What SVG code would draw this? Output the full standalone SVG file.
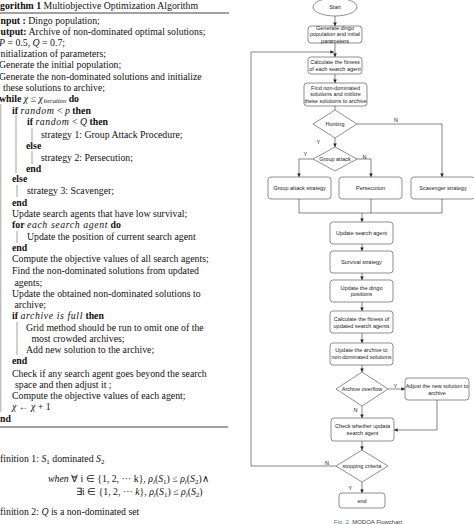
<svg xmlns="http://www.w3.org/2000/svg" width="474" height="524" viewBox="0 0 474 524">
<style>
.alg{font-family:"Liberation Serif","Times New Roman",serif;font-size:9.8px;fill:#111}
.b{font-weight:bold}
.i{font-style:italic}
.rule{stroke:#111;stroke-width:0.8}
.blk{stroke:#999;stroke-width:0.9}
.box{fill:#fff;stroke:#444;stroke-width:0.6}
.ft{font-family:"Liberation Sans",Arial,sans-serif;font-size:5.5px;fill:#222;text-anchor:middle}
.lbl{font-family:"Liberation Sans",Arial,sans-serif;font-size:5.5px;fill:#222}
.con{fill:none;stroke:#333;stroke-width:0.6}
.arr{marker-end:url(#ah)}
</style>
<defs>
<marker id="ah" viewBox="0 0 6 6" refX="6" refY="3" markerWidth="3.6" markerHeight="3.6" markerUnits="userSpaceOnUse" orient="auto">
<path d="M0,0 L6,3 L0,6 z" fill="#222"/>
</marker>
</defs>

<g id="algorithm">
<line class="rule" x1="0" y1="13" x2="229" y2="13"/>
<line class="rule" x1="0" y1="427" x2="228" y2="427"/>
<line class="blk" x1="0.8" y1="104" x2="0.8" y2="412"/>
<line class="blk" x1="16" y1="115" x2="16" y2="173"/>
<line class="blk" x1="32" y1="128" x2="32" y2="141"/>
<line class="blk" x1="32" y1="151" x2="32" y2="164"/>
<line class="blk" x1="17" y1="185" x2="17" y2="197"/>
<line class="blk" x1="17" y1="231" x2="17" y2="243"/>
<line class="blk" x1="17" y1="322" x2="17" y2="355"/>
<text class="alg" x="0" y="9.2"><tspan class="b">gorithm 1</tspan> Multiobjective Optimization Algorithm</text>
<text class="alg" x="0.5" y="23.9"><tspan class="b">nput :</tspan> Dingo population;</text>
<text class="alg" x="0.5" y="35.2"><tspan class="b">utput:</tspan> Archive of non-dominated optimal solutions;</text>
<text class="alg" x="-1" y="46.2"><tspan class="i">P</tspan> = 0.5, <tspan class="i">Q</tspan> = 0.7;</text>
<text class="alg" x="0.5" y="57.2">nitialization of parameters;</text>
<text class="alg" x="-1" y="68.2">Generate the initial population;</text>
<text class="alg" x="-1" y="80.2">Generate the non-dominated solutions and initialize</text>
<text class="alg" x="3" y="91.2">these solutions to archive;</text>
<text class="alg" x="-1" y="101.8"><tspan class="b">while</tspan> <tspan class="i">χ</tspan> ≤ <tspan class="i">χ</tspan><tspan class="i" font-size="6.6" dx="0.8" baseline-shift="-0.8">iteration</tspan><tspan class="b"> do</tspan></text>
<text class="alg" x="12" y="113.6"><tspan class="b">if</tspan> <tspan class="i" letter-spacing="0.6">random</tspan> &lt; <tspan class="i">p</tspan> <tspan class="b">then</tspan></text>
<text class="alg" x="27" y="125.2"><tspan class="b">if</tspan> <tspan class="i" letter-spacing="0.6">random</tspan> &lt; <tspan class="i">Q</tspan> <tspan class="b">then</tspan></text>
<text class="alg" x="41" y="137.5">strategy 1: Group Attack Procedure;</text>
<text class="alg b" x="26" y="148.9">else</text>
<text class="alg" x="41" y="160.5">strategy 2: Persecution;</text>
<text class="alg b" x="26" y="171.5">end</text>
<text class="alg b" x="12" y="182.2">else</text>
<text class="alg" x="27" y="193.9">strategy 3: Scavenger;</text>
<text class="alg b" x="12" y="205.5">end</text>
<text class="alg" x="12" y="216.5">Update search agents that have low survival;</text>
<text class="alg" x="12" y="228.2"><tspan class="b">for</tspan> <tspan class="i" letter-spacing="0.6">each search agent</tspan> <tspan class="b">do</tspan></text>
<text class="alg" x="27" y="239.9">Update the position of current search agent</text>
<text class="alg b" x="12" y="250.9">end</text>
<text class="alg" x="12" y="262.2">Compute the objective values of all search agents;</text>
<text class="alg" x="12" y="273.9">Find the non-dominated solutions from updated</text>
<text class="alg" x="14.5" y="285.5">agents;</text>
<text class="alg" x="12" y="296.5">Update the obtained non-dominated solutions to</text>
<text class="alg" x="14.5" y="307.5">archive;</text>
<text class="alg" x="12" y="319.2"><tspan class="b">if</tspan> <tspan class="i" letter-spacing="0.6">archive is full</tspan> <tspan class="b">then</tspan></text>
<text class="alg" x="26" y="330.5">Grid method should be run to omit one of the</text>
<text class="alg" x="31.5" y="341.5">most crowded archives;</text>
<text class="alg" x="26" y="353.2">Add new solution to the archive;</text>
<text class="alg b" x="12" y="364.2">end</text>
<text class="alg" x="12" y="376.5">Check if any search agent goes beyond the search</text>
<text class="alg" x="15" y="387.5">space and then adjust it ;</text>
<text class="alg" x="12" y="398.9">Compute the objective values of each agent;</text>
<text class="alg" x="12" y="409.9"><tspan class="i">χ</tspan> ← <tspan class="i">χ</tspan> + 1</text>
<text class="alg b" x="0" y="421.5">nd</text>
<text class="alg" x="0" y="461.5">finition 1: <tspan class="i">S</tspan><tspan font-size="7" dy="2">1</tspan><tspan dy="-2"> dominated </tspan><tspan class="i">S</tspan><tspan font-size="7" dy="2">2</tspan></text>
<text class="alg" x="48" y="482"><tspan class="i">when</tspan>   ∀ i ∈ {1, 2, ··· k}, <tspan class="i">ρ</tspan><tspan class="i" font-size="7" dy="2">i</tspan><tspan dy="-2">(</tspan><tspan class="i">S</tspan><tspan font-size="7" dy="2">1</tspan><tspan dy="-2">) ≤ </tspan><tspan class="i">ρ</tspan><tspan class="i" font-size="7" dy="2">i</tspan><tspan dy="-2">(</tspan><tspan class="i">S</tspan><tspan font-size="7" dy="2">2</tspan><tspan dy="-2">)∧</tspan></text>
<text class="alg" x="76" y="495">∃i ∈ {1, 2, ··· <tspan class="i">k</tspan>}, <tspan class="i">ρ</tspan><tspan class="i" font-size="7" dy="2">i</tspan><tspan dy="-2">(</tspan><tspan class="i">S</tspan><tspan font-size="7" dy="2">1</tspan><tspan dy="-2">) ≤ </tspan><tspan class="i">ρ</tspan><tspan class="i" font-size="7" dy="2">i</tspan><tspan dy="-2">(</tspan><tspan class="i">S</tspan><tspan font-size="7" dy="2">2</tspan><tspan dy="-2">)</tspan></text>
<text class="alg" x="0" y="515">finition 2: <tspan class="i">Q</tspan> is a non-dominated set</text>
</g>

<g id="connectors">
<path class="con arr" d="M335 16 V26"/>
<path class="con arr" d="M335 43 V57"/>
<path class="con arr" d="M336 466 H251 V52 H334"/>
<path class="con arr" d="M335 74 V83"/>
<path class="con" d="M335 106 V110"/>
<path class="con arr" d="M335 138 V147"/>
<path class="con arr" d="M357 124 H442 V177"/>
<path class="con arr" d="M313 159 H299 V177"/>
<path class="con arr" d="M357 159 H371 V177"/>
<path class="con" d="M299 199 V213 H442 V199 M371 199 V213"/>
<path class="con arr" d="M362 213 V222"/>
<path class="con arr" d="M362 244 V251"/>
<path class="con arr" d="M362 273 V280"/>
<path class="con arr" d="M362 302 V311"/>
<path class="con arr" d="M362 333 V343"/>
<path class="con arr" d="M362 365 V372"/>
<path class="con arr" d="M388 389 H405"/>
<path class="con arr" d="M437 400 V430 H394"/>
<path class="con arr" d="M362 406 V418"/>
<path class="con arr" d="M362 441 V450"/>
<path class="con arr" d="M362 482 V493"/>
<text class="lbl" x="394" y="122">N</text>
<text class="lbl" x="316.5" y="144">Y</text>
<text class="lbl" x="303.5" y="156">Y</text>
<text class="lbl" x="362.5" y="159">N</text>
<text class="lbl" x="393.5" y="388">Y</text>
<text class="lbl" x="353.5" y="412">N</text>
<text class="lbl" x="325" y="465">N</text>
<text class="lbl" x="348.5" y="490">Y</text>
</g>

<g id="start">
<ellipse class="box" cx="335" cy="7" rx="22" ry="9"/>
<text class="ft" x="335" y="9">Start</text>
</g>
<g id="generate">
<rect class="box" x="308" y="26" width="54" height="17" rx="3"/>
<text class="ft" x="335" y="30.3">Generate dingo</text>
<text class="ft" x="335" y="36.3">population and initial</text>
<text class="ft" x="335" y="43">parameters</text>
</g>
<g id="calc-fitness">
<rect class="box" x="308" y="57" width="54" height="17" rx="3"/>
<text class="ft" x="335" y="64.3">Calculate the fitness</text>
<text class="ft" x="335" y="71">of each search agent</text>
</g>
<g id="find-nondominated">
<rect class="box" x="304" y="83" width="63" height="23" rx="3"/>
<text class="ft" x="335.5" y="90">Find non-dominated</text>
<text class="ft" x="335.5" y="96.3">solutions and initilize</text>
<text class="ft" x="335.5" y="102.7">these solutions to archive</text>
</g>
<g id="hunting">
<polygon class="box" points="335,110 357,124 335,138 313,124"/>
<text class="ft" x="335" y="126">Hunting</text>
</g>
<g id="group-attack">
<polygon class="box" points="335,147 357,159 335,171 313,159"/>
<text class="ft" x="335" y="161">Group attack</text>
</g>
<g id="group-attack-strategy">
<rect class="box" x="268" y="177" width="63" height="22" rx="3"/>
<text class="ft" x="299.5" y="190">Group attack strategy</text>
</g>
<g id="persecution">
<rect class="box" x="339" y="177" width="63" height="22" rx="3"/>
<text class="ft" x="370.5" y="190">Persecution</text>
</g>
<g id="scavenger">
<rect class="box" x="411" y="177" width="64" height="22" rx="3"/>
<text class="ft" x="443" y="190">Scavenger strategy</text>
</g>
<g id="update-agent">
<rect class="box" x="330" y="222" width="63" height="22" rx="3"/>
<text class="ft" x="361.5" y="235.3">Update search agent</text>
</g>
<g id="survival">
<rect class="box" x="330" y="251" width="63" height="22" rx="3"/>
<text class="ft" x="361.5" y="264.3">Survival strategy</text>
</g>
<g id="update-positions">
<rect class="box" x="330" y="280" width="63" height="22" rx="3"/>
<text class="ft" x="361.5" y="289.7">Update the dingo</text>
<text class="ft" x="361.5" y="296.3">positions</text>
</g>
<g id="calc-updated">
<rect class="box" x="330" y="311" width="63" height="22" rx="3"/>
<text class="ft" x="361.5" y="321.3">Calculate the fitness of</text>
<text class="ft" x="361.5" y="328">updated search agents</text>
</g>
<g id="update-archive">
<rect class="box" x="330" y="343" width="63" height="22" rx="3"/>
<text class="ft" x="361.5" y="352">Update the archive to</text>
<text class="ft" x="361.5" y="358.7">non-dominated solutions</text>
</g>
<g id="archive-overflow">
<polygon class="box" points="362,372 388,389 362,406 336,389"/>
<text class="ft" x="362" y="391">Archive overflow</text>
</g>
<g id="adjust">
<rect class="box" x="405" y="378" width="64" height="22" rx="3"/>
<text class="ft" x="437" y="387.7">Adjust the new solution to</text>
<text class="ft" x="437" y="395.3">archive</text>
</g>
<g id="check">
<rect class="box" x="331" y="418" width="63" height="23" rx="3"/>
<text class="ft" x="362.5" y="428">Check whether updata</text>
<text class="ft" x="362.5" y="434.7">search agent</text>
</g>
<g id="stopping">
<polygon class="box" points="362,450 388,466 362,482 336,466"/>
<text class="ft" x="362" y="468">stopping criteria</text>
</g>
<g id="end">
<rect class="box" x="339" y="493" width="46" height="15" rx="3"/>
<text class="ft" x="362" y="502.7">end</text>
</g>
<g id="caption">
<text x="368" y="523.5" font-family="Liberation Sans, Arial, sans-serif" font-size="6px" text-anchor="middle"><tspan fill="#3a8a9a">Fig. 2.</tspan><tspan fill="#334455">  MODOA Flowchart</tspan></text>
</g>
</svg>
